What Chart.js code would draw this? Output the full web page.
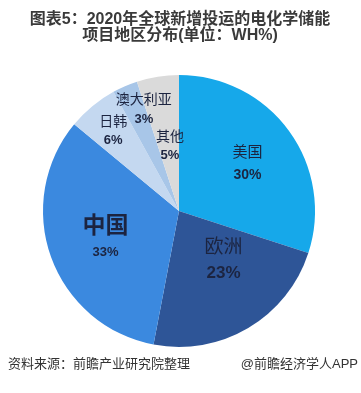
<!DOCTYPE html>
<html>
<head>
<meta charset="utf-8">
<script src="https://cdn.jsdelivr.net/npm/chart.js@4/dist/chart.umd.min.js"></script>
<style>
html,body{margin:0;padding:0;background:#fff;}
canvas{display:block;}
</style>
</head>
<body>
<canvas id="c" width="361" height="393"></canvas>
<script>
const categories = ['美国', '欧洲', '中国', '日韩', '澳大利亚', '其他'];
const values = [30, 23, 33, 6, 3, 5];
const pctLabels = ['30%', '23%', '33%', '6%', '3%', '5%'];
const colors = ['#16A8EA', '#2E5597', '#3B89DF', '#C4D8F0', '#A8C6E8', '#DADADA'];

const titleLines = ['图表5：2020年全球新增投运的电化学储能', '项目地区分布(单位：WH%)'];
const sourceText = '资料来源：前瞻产业研究院整理';
const brandText = '@前瞻经济学人APP';

// label styling per slice: angle offset (deg), radius fraction, name size, pct size, line gap
const labelStyle = [
  {da: 1.7, f: 0.61, ns: 15, ps: 14, gap: 22, nw: 'normal'},
  {da: -11.4, f: 0.49, ns: 19, ps: 17, gap: 26, nw: 'normal'},
  {da: -1.7, f: 0.58, ns: 23, ps: 13, gap: 26, nw: 'bold'},
  {da: 0.1, f: 0.76, ns: 14, ps: 13, gap: 19, nw: 'normal'},
  {da: 4.3, f: 0.79, ns: 14, ps: 13, gap: 19, nw: 'normal'},
  {da: 1.0, f: 0.48, ns: 14, ps: 13, gap: 19, nw: 'normal'}
];

const FONT = '"Liberation Sans", "Noto Sans CJK SC", sans-serif';

const textPlugin = {
  id: 'texts',
  afterDraw(chart) {
    const ctx = chart.ctx;
    ctx.save();
    ctx.textAlign = 'center';
    ctx.textBaseline = 'middle';
    // title
    ctx.fillStyle = '#3a3a3a';
    ctx.font = 'bold 16px ' + FONT;
    ctx.fillText(titleLines[0], 180, 20);
    ctx.fillText(titleLines[1], 180, 36);
    // slice labels
    const meta = chart.getDatasetMeta(0);
    meta.data.forEach((arc, i) => {
      const st = labelStyle[i];
      const mid = (arc.startAngle + arc.endAngle) / 2 + st.da * Math.PI / 180;
      const r = arc.outerRadius * st.f;
      const x = arc.x + Math.cos(mid) * r;
      const y = arc.y + Math.sin(mid) * r;
      ctx.fillStyle = '#1c2440';
      ctx.font = st.nw + ' ' + st.ns + 'px ' + FONT;
      ctx.fillText(categories[i], x, y - st.gap / 2);
      ctx.font = 'bold ' + st.ps + 'px ' + FONT;
      ctx.fillText(pctLabels[i], x, y + st.gap / 2);
    });
    // footer
    ctx.fillStyle = '#333333';
    ctx.font = '13px ' + FONT;
    ctx.textAlign = 'left';
    ctx.fillText(sourceText, 8, 364);
    ctx.textAlign = 'right';
    ctx.fillText(brandText, 358, 364);
    ctx.restore();
  }
};

new Chart(document.getElementById('c'), {
  type: 'pie',
  data: {
    labels: categories,
    datasets: [{
      data: values,
      backgroundColor: colors,
      borderWidth: 0
    }]
  },
  options: {
    responsive: false,
    animation: false,
    layout: {padding: {top: 75, bottom: 46, left: 42, right: 45}},
    plugins: {
      legend: {display: false},
      tooltip: {enabled: false},
      title: {display: false}
    }
  },
  plugins: [textPlugin]
});
</script>
</body>
</html>
